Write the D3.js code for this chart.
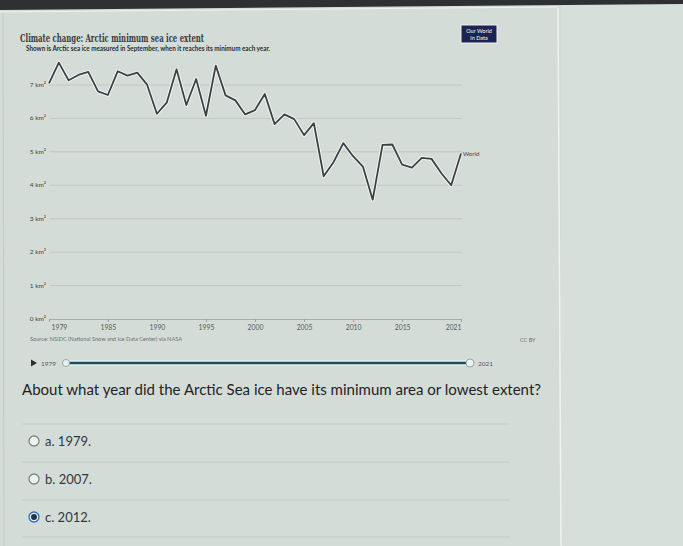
<!DOCTYPE html>
<html><head><meta charset="utf-8">
<script src="https://cdn.jsdelivr.net/npm/d3@7"></script>
<style>
html,body{margin:0;padding:0;background:#d4dcd7;overflow:hidden}
svg{display:block}
</style></head>
<body>
<svg id="c" width="683" height="546"></svg>
<script>
const years = d3.range(1979, 2022);
const extent = [7.05,7.67,7.14,7.30,7.39,6.81,6.70,7.41,7.28,7.37,7.01,6.14,6.47,7.47,6.40,7.18,6.08,7.58,6.69,6.54,6.12,6.25,6.73,5.83,6.12,5.98,5.50,5.86,4.27,4.69,5.26,4.87,4.56,3.57,5.21,5.22,4.62,4.53,4.82,4.79,4.36,4.00,4.95];
const yTicks = [0,1,2,3,4,5,6,7];
const xTicks = [1979,1985,1990,1995,2000,2005,2010,2015,2021];
const answers = ["a. 1979.","b. 2007.","c. 2012."];
const selected = 2;

const svg = d3.select("#c");
// background panels
svg.append("rect").attr("width",683).attr("height",546).attr("fill","#d4dcd7");
svg.append("rect").attr("x",561).attr("y",0).attr("width",122).attr("height",546).attr("fill","#d7dfdb");
svg.append("line").attr("x1",558).attr("y1",8).attr("x2",561).attr("y2",546).attr("stroke","#eef3f0").attr("stroke-width",1.5);
svg.append("line").attr("x1",3).attr("y1",12).attr("x2",4).attr("y2",546).attr("stroke","#c3cbc6").attr("stroke-width",1);
// top dark band
svg.append("path").attr("d","M0,0L683,0L683,4L0,10Z").attr("fill","#2e3031");
svg.append("line").attr("x1",0).attr("y1",12).attr("x2",558).attr("y2",7).attr("stroke","#eef3f0").attr("stroke-width",1);

// title
svg.append("text").attr("x",20).attr("y",42).text("Climate change: Arctic minimum sea ice extent")
  .attr("font-family","DejaVu Serif, Liberation Serif, serif").attr("font-weight","bold").attr("font-size",11)
  .attr("fill","#3a3d40").attr("textLength",184).attr("lengthAdjust","spacingAndGlyphs");
svg.append("text").attr("x",26).attr("y",51).text("Shown is Arctic sea ice measured in September, when it reaches its minimum each year.")
  .attr("font-family","Lato, sans-serif").attr("font-weight","bold").attr("font-size",6.5).attr("fill","#2a2d30")
  .attr("textLength",244).attr("lengthAdjust","spacingAndGlyphs");
// logo
svg.append("rect").attr("x",461).attr("y",25).attr("width",36).attr("height",18).attr("fill","#1c2550").attr("stroke","#f0f2f5").attr("stroke-width",1);
svg.append("text").attr("x",479).attr("y",32.5).attr("text-anchor","middle").text("Our World").attr("font-family","Lato, sans-serif").attr("font-size",5.5).attr("fill","#fff");
svg.append("text").attr("x",479).attr("y",39.5).attr("text-anchor","middle").text("in Data").attr("font-family","Lato, sans-serif").attr("font-size",5.5).attr("fill","#fff");

// scales
const x = d3.scaleLinear().domain([1979,2021]).range([49,461]);
const y = d3.scaleLinear().domain([0,7]).range([319,85]);

// gridlines
const g = svg.append("g");
g.selectAll("line.grid").data(yTicks.filter(d=>d>0)).join("line")
  .attr("x1",50).attr("x2",462).attr("y1",d=>y(d)).attr("y2",d=>y(d))
  .attr("stroke","#bcc4c0").attr("stroke-width",0.8);
g.selectAll("text.yl").data(yTicks).join("text")
  .attr("x",46).attr("y",d=>y(d)+2).attr("text-anchor","end")
  .attr("font-family","Lato, sans-serif").attr("font-size",6.5).attr("fill","#3c4044")
  .text(d=>d+" km²");

// x axis
const xAxis = d3.axisBottom(x).tickValues(xTicks).tickSize(3).tickFormat(d3.format("d"));
const ax = svg.append("g").attr("transform",`translate(0,${y(0)})`).call(xAxis);
ax.select(".domain").attr("stroke","#9aa29e").attr("stroke-width",0.8);
ax.selectAll(".tick line").attr("stroke","#9aa29e");
ax.selectAll(".tick text").attr("font-family","Lato, sans-serif").attr("font-size",6.8).attr("fill","#555b5f")
  .attr("text-anchor",d=>d===1979?"start":(d===2021?"end":"middle"))
  .attr("dx",d=>d===1979?2:0);

// line
const line = d3.line().x((d,i)=>x(years[i])).y(d=>y(d));
svg.append("path").datum(extent).attr("d",line).attr("fill","none").attr("stroke","#f4f7f6").attr("stroke-width",3.6).attr("stroke-linejoin","round");
svg.append("path").datum(extent).attr("d",line).attr("fill","none").attr("stroke","#3b4045").attr("stroke-width",1.8).attr("stroke-linejoin","round");
svg.append("text").attr("x",x(2021)+2).attr("y",y(extent[extent.length-1])+2).text("World")
  .attr("font-family","Lato, sans-serif").attr("font-size",6).attr("fill","#3c4044");

// source & license
svg.append("text").attr("x",30).attr("y",341).text("Source: NSIDC (National Snow and Ice Data Center) via NASA")
  .attr("font-family","Lato, sans-serif").attr("font-size",5).attr("fill","#6a7074")
  .attr("textLength",152).attr("lengthAdjust","spacingAndGlyphs");
svg.append("text").attr("x",520).attr("y",342).text("CC BY").attr("font-family","Lato, sans-serif").attr("font-size",5.5).attr("fill","#6a7074");

// timeline slider
svg.append("path").attr("d","M31,359.5L37,363L31,366.5Z").attr("fill","#2b2f33");
svg.append("text").attr("x",41).attr("y",365.5).text("1979").attr("font-family","Lato, sans-serif").attr("font-size",6.5).attr("fill","#555b5f");
svg.append("line").attr("x1",66).attr("x2",470).attr("y1",363).attr("y2",363).attr("stroke","#dff6fb").attr("stroke-width",5);
svg.append("line").attr("x1",66).attr("x2",470).attr("y1",363).attr("y2",363).attr("stroke","#1e4a5a").attr("stroke-width",2.6);
svg.append("circle").attr("cx",66).attr("cy",363).attr("r",3.5).attr("fill","#e9f1f1").attr("stroke","#8b9498").attr("stroke-width",0.8);
svg.append("circle").attr("cx",470).attr("cy",363).attr("r",4).attr("fill","#e9f1f1").attr("stroke","#8b9498").attr("stroke-width",0.8);
svg.append("text").attr("x",478).attr("y",365.5).text("2021").attr("font-family","Lato, sans-serif").attr("font-size",6.5).attr("fill","#555b5f");

// question
svg.append("text").attr("x",22).attr("y",395).text("About what year did the Arctic Sea ice have its minimum area or lowest extent?")
  .attr("font-family","Lato, sans-serif").attr("font-size",15).attr("fill","#1f2326")
  .attr("textLength",519).attr("lengthAdjust","spacingAndGlyphs");
[424,462,500,537].forEach(yy=>{
  svg.append("line").attr("x1",22).attr("x2",510).attr("y1",yy).attr("y2",yy).attr("stroke","#c6cec9").attr("stroke-width",1);
});
const opt = svg.selectAll("g.opt").data(answers).join("g").attr("transform",(d,i)=>`translate(0,${441+i*38})`);
opt.append("circle").attr("cx",34).attr("cy",0).attr("r",5).attr("fill","#eef2f1").attr("stroke",(d,i)=>i===selected?"#2b6fc2":"#7d8589").attr("stroke-width",1.3);
opt.filter((d,i)=>i===selected).append("circle").attr("cx",34).attr("cy",0).attr("r",3).attr("fill","#1d3550");
opt.append("text").attr("x",45).attr("y",4.5).text(d=>d).attr("font-family","Lato, sans-serif").attr("font-size",13).attr("fill","#33383b");
</script>
</body></html>
